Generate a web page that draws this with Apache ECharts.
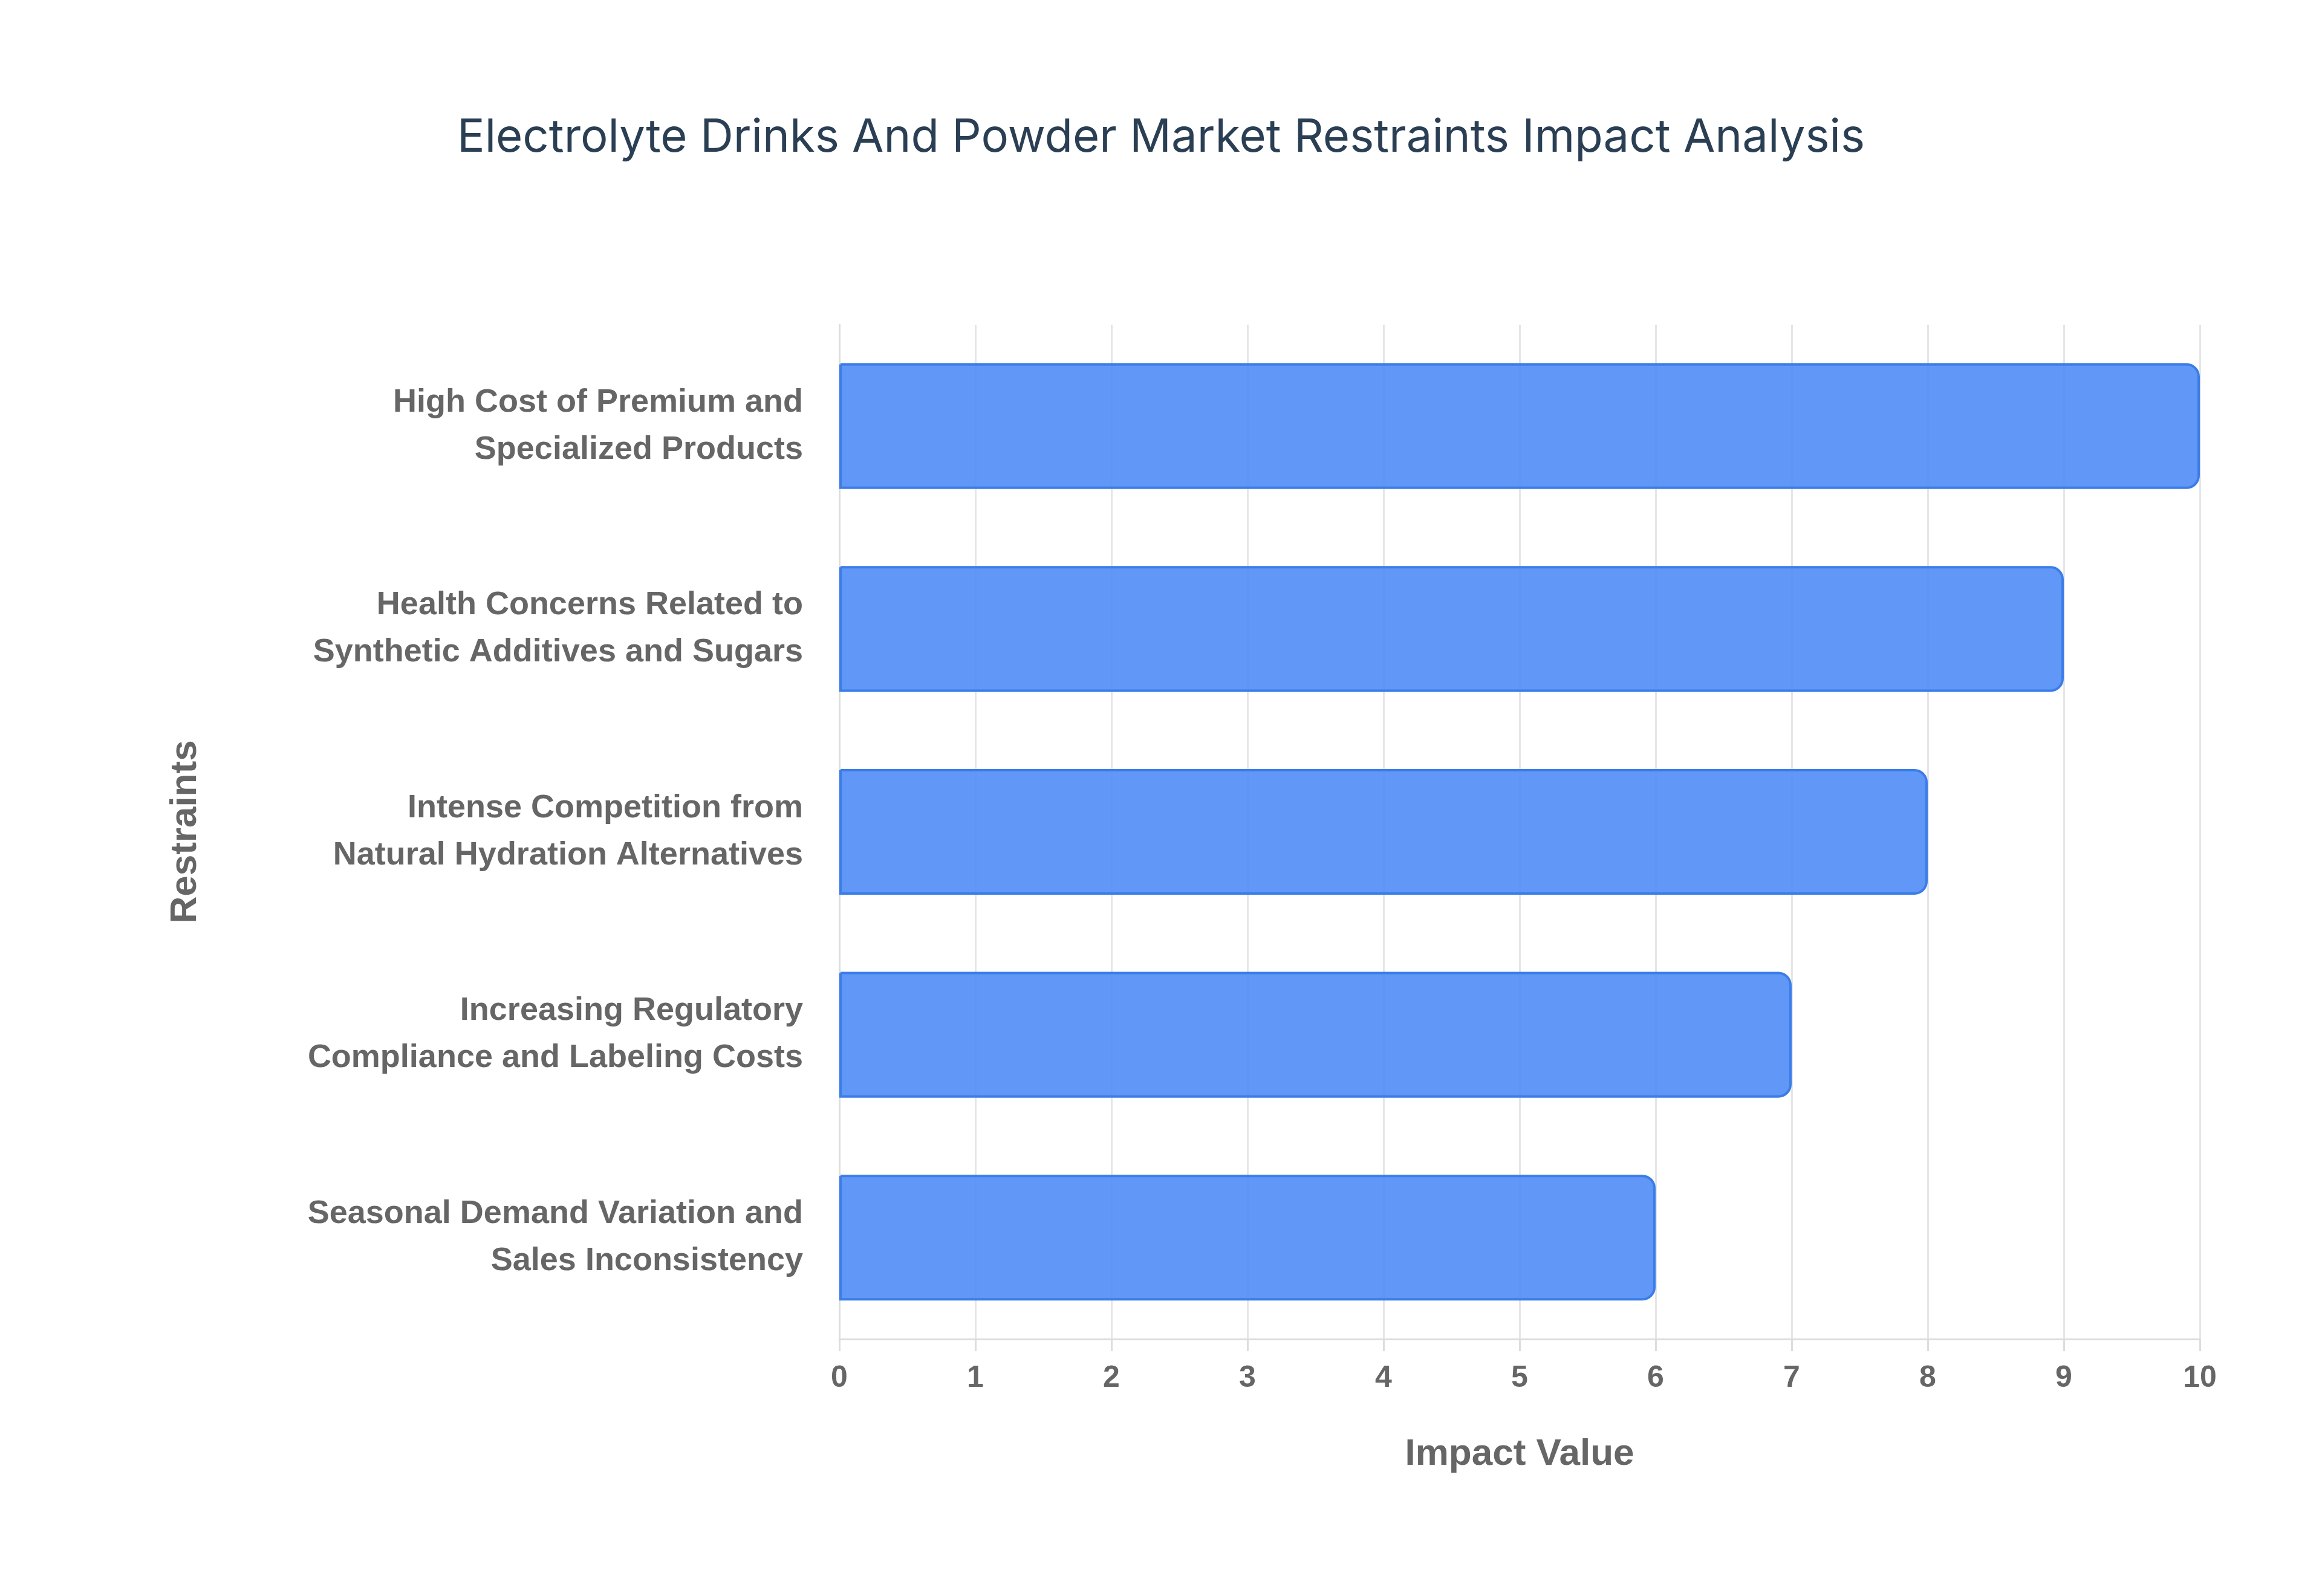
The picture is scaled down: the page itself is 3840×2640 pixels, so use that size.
<!DOCTYPE html>
<html><head><meta charset="utf-8">
<script src="https://cdn.jsdelivr.net/npm/echarts@6/dist/echarts.min.js"></script>
<style>html,body{margin:0;padding:0;background:#fff}#c{width:3840px;height:2640px}</style>
</head><body><div id="c"></div>
<script>
const categories = [
  "Seasonal Demand Variation and\nSales Inconsistency",
  "Increasing Regulatory\nCompliance and Labeling Costs",
  "Intense Competition from\nNatural Hydration Alternatives",
  "Health Concerns Related to\nSynthetic Additives and Sugars",
  "High Cost of Premium and\nSpecialized Products"
];
const values = [6, 7, 8, 9, 10];

const chart = echarts.init(document.getElementById('c'));
chart.setOption({
  backgroundColor: '#ffffff',
  title: {
    text: 'Electrolyte Drinks And Powder Market Restraints Impact Analysis',
    left: 'center', top: 185,
    textStyle: { fontFamily: 'Inter', fontWeight: 'normal', fontSize: 76, color: '#2a3f54' }
  },
  grid: { left: 1388, right: 202, top: 537, bottom: 425 },
  xAxis: {
    type: 'value', min: 0, max: 10, interval: 1,
    name: 'Impact Value', nameLocation: 'middle', nameGap: 160,
    nameTextStyle: { fontFamily: 'Liberation Sans', fontWeight: 'bold', fontSize: 62, color: '#666' },
    axisLabel: { fontFamily: 'Liberation Sans', fontWeight: 'bold', fontSize: 50, color: '#666', margin: 40 },
    axisLine: { show: true, lineStyle: { color: '#ddd', width: 3 } },
    axisTick: { show: true, length: 20, lineStyle: { color: '#ddd', width: 3 } },
    splitLine: { show: true, lineStyle: { color: '#e6e6e6', width: 3 } }
  },
  yAxis: {
    type: 'category', data: categories,
    name: 'Restraints', nameLocation: 'middle', nameGap: 1050, nameRotate: 90,
    nameTextStyle: { fontFamily: 'Liberation Sans', fontWeight: 'bold', fontSize: 62, color: '#666' },
    axisLabel: { fontFamily: 'Liberation Sans', fontWeight: 'bold', fontSize: 54, color: '#666', margin: 60, lineHeight: 78, align: 'right' },
    axisLine: { show: true, lineStyle: { color: '#ddd', width: 3 } },
    axisTick: { show: false },
    splitLine: { show: false }
  },
  series: [{
    type: 'bar', data: values, barWidth: '62%',
    itemStyle: { color: 'rgba(80,140,245,0.9)', borderColor: '#3b7de8', borderWidth: 4, borderRadius: [0, 20, 20, 0] }
  }]
});
</script></body></html>
